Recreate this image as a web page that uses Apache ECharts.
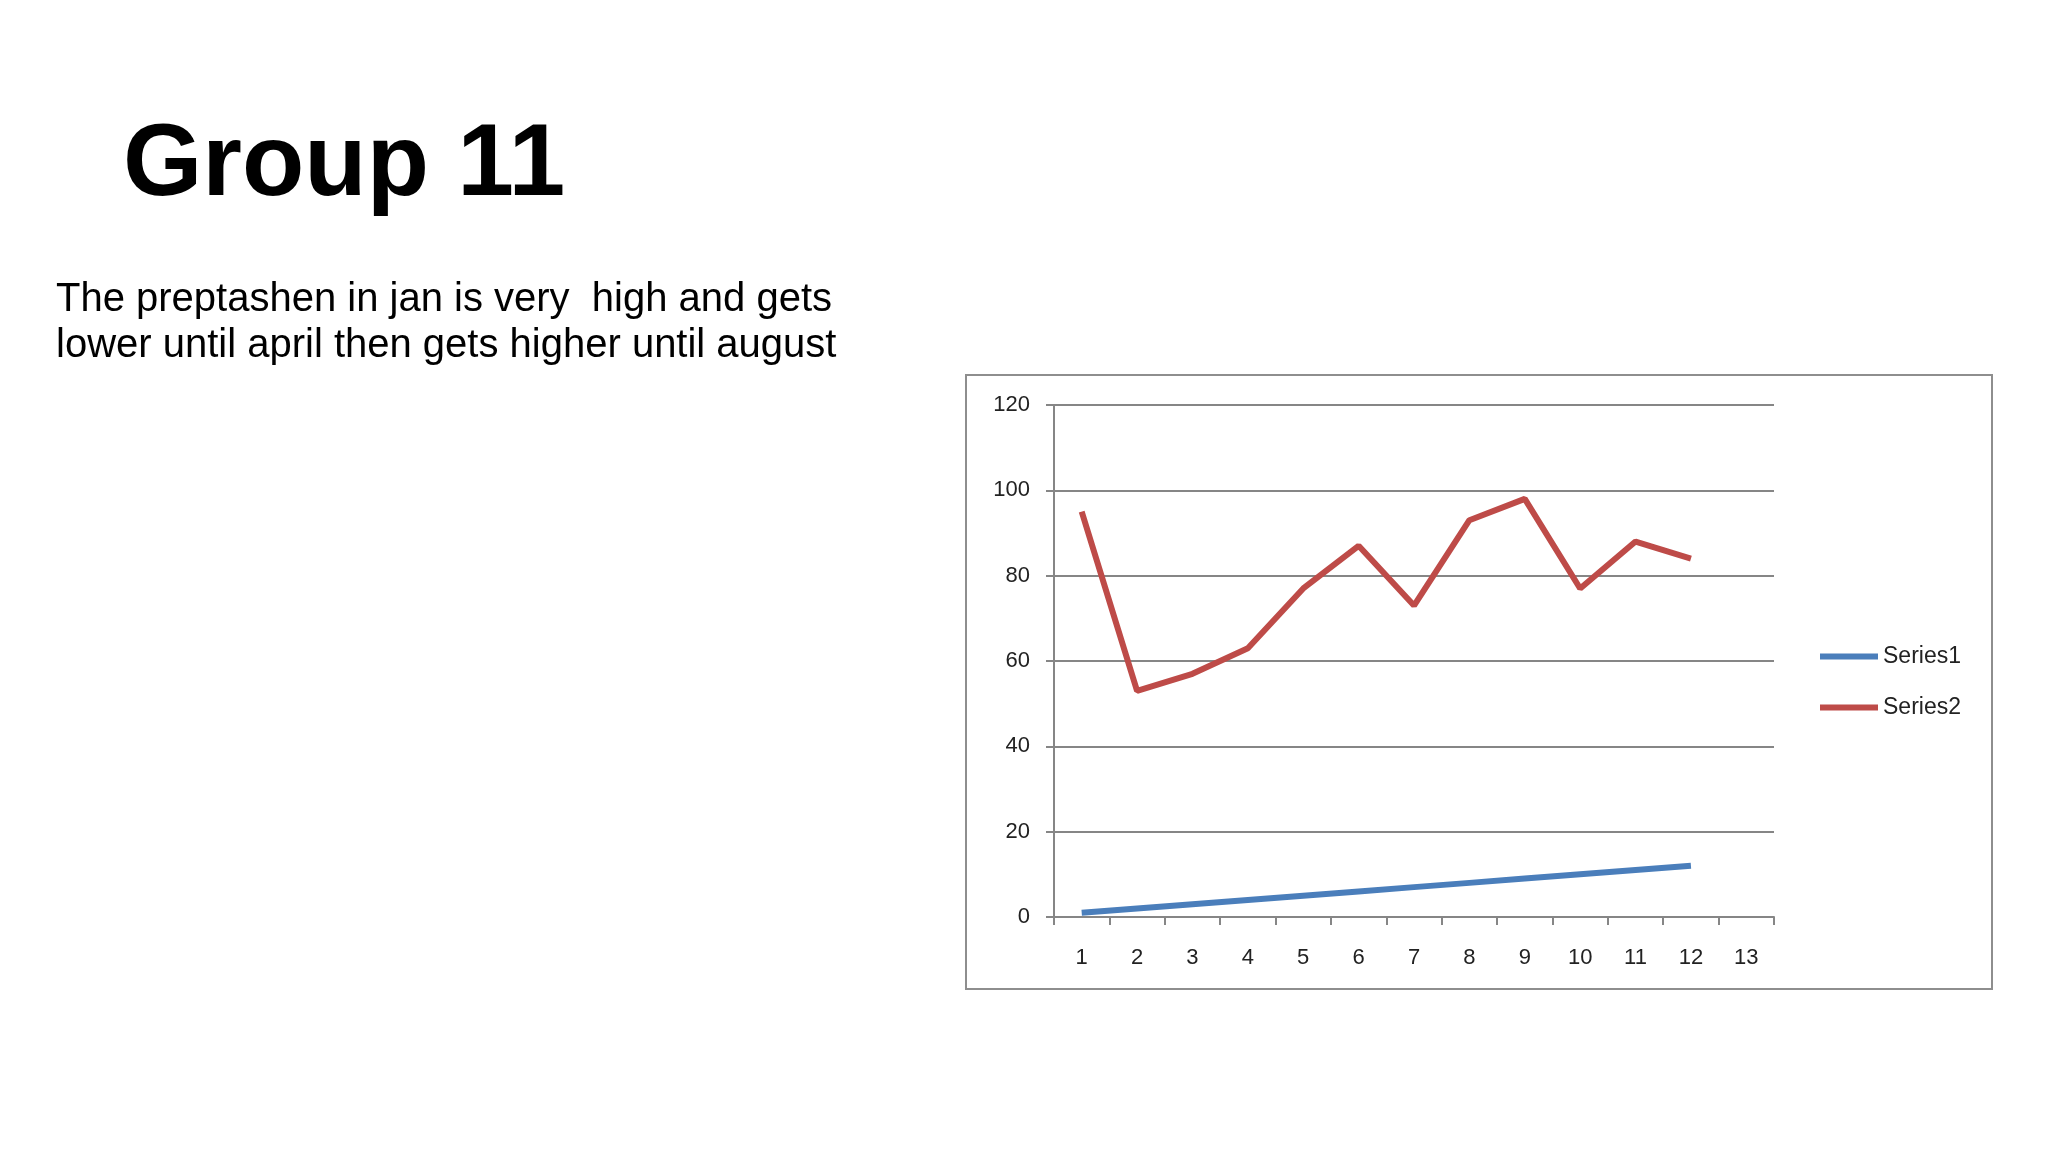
<!DOCTYPE html>
<html>
<head>
<meta charset="utf-8">
<style>
  html, body { margin: 0; padding: 0; background: #fff; }
  #main { width: 2048px; height: 1152px; }
</style>
<script src="https://cdn.jsdelivr.net/npm/echarts@6/dist/echarts.min.js"></script>
</head>
<body>
<div id="main"></div>
<script>
(function () {
  var categories = ['1', '2', '3', '4', '5', '6', '7', '8', '9', '10', '11', '12', '13'];
  var series1 = [1, 2, 3, 4, 5, 6, 7, 8, 9, 10, 11, 12];
  var series2 = [95, 53, 57, 63, 77, 87, 73, 93, 98, 77, 88, 84];
  var seriesNames = ['Series1', 'Series2'];

  var myChart = echarts.init(document.getElementById('main'));
  var labelFont = 'Liberation Sans';

  myChart.setOption({
    backgroundColor: '#ffffff',
    animation: false,
    title: [{
      text: 'Group 11',
      left: 118,
      top: 111,
      textStyle: {
        fontFamily: 'Liberation Sans',
        fontWeight: 'bold',
        fontSize: 102,
        color: '#000'
      }
    }, {
      text: 'The preptashen in jan is very  high and gets\nlower until april then gets higher until august',
      left: 51,
      top: 272,
      textStyle: {
        fontFamily: 'Liberation Sans',
        fontWeight: 'normal',
        fontSize: 40,
        lineHeight: 46,
        color: '#000'
      }
    }],
    graphic: [{
      type: 'rect',
      z: -1,
      shape: { x: 966, y: 375, width: 1026, height: 614 },
      style: { fill: '#fff', stroke: '#8e8e8e', lineWidth: 2 }
    }],
    legend: {
      orient: 'vertical',
      left: 1815,
      top: 640,
      itemGap: 28,
      icon: 'rect',
      itemWidth: 58,
      itemHeight: 6,
      textStyle: { fontFamily: labelFont, fontSize: 23, color: '#222', padding: [0, 0, 0, 0] },
      data: seriesNames
    },
    grid: {
      left: 1054,
      right: 274,
      top: 405,
      bottom: 235,
      containLabel: false
    },
    xAxis: {
      type: 'category',
      data: categories,
      boundaryGap: true,
      axisLine: { lineStyle: { color: '#868686', width: 2 } },
      axisTick: { show: true, length: 8, lineStyle: { color: '#868686', width: 2 } },
      axisLabel: { margin: 30, fontFamily: labelFont, fontSize: 22, color: '#222' },
      splitLine: { show: false }
    },
    yAxis: {
      type: 'value',
      min: 0,
      max: 120,
      interval: 20,
      axisLine: { show: true, lineStyle: { color: '#868686', width: 2 } },
      axisTick: { show: true, length: 8, lineStyle: { color: '#868686', width: 2 } },
      axisLabel: { margin: 24, fontFamily: labelFont, fontSize: 22, color: '#222' },
      splitLine: { show: true, lineStyle: { color: '#868686', width: 2 } }
    },
    series: [{
      name: seriesNames[0],
      type: 'line',
      data: series1,
      showSymbol: false,
      color: '#4a7ebb',
      lineStyle: { width: 6, color: '#4a7ebb' }
    }, {
      name: seriesNames[1],
      type: 'line',
      data: series2,
      showSymbol: false,
      color: '#be4b48',
      lineStyle: { width: 6, color: '#be4b48' }
    }]
  });

  window.addEventListener('resize', function () {
    myChart.resize();
  });
})();
</script>
</body>
</html>
